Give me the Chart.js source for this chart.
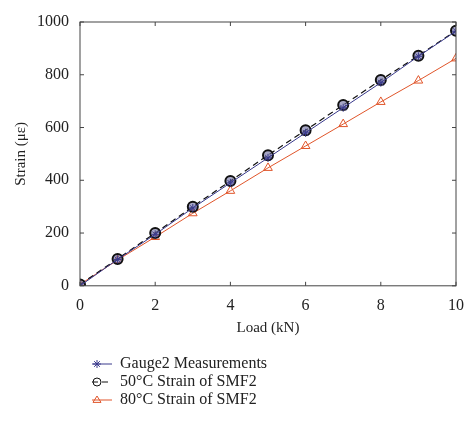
<!DOCTYPE html>
<html><head><meta charset="utf-8">
<script src="https://cdn.jsdelivr.net/npm/chart.js@4"></script>
<style>html,body{margin:0;background:#fff}#w{width:474px;height:433px}</style>
</head><body><div id="w"><canvas id="c"></canvas></div>
<script>
const loads = [0,1,2,3,4,5,6,7,8,9,10];
const gauge2 = [0,100,195,295,390,485,580,675,770,870,965];
const strain50 = [5,102,200,300,397,495,590,685,780,872,967];
const strain80 = [5,98,185,275,360,447,530,613,697,778,862];
const seriesNames = ['Gauge2 Measurements','50°C Strain of SMF2','80°C Strain of SMF2'];
const font = "'Liberation Serif', serif";
const pts = a => a.map((v,i)=>({x:loads[i],y:v}));
const frame = {id:'frame',afterDraw(ch){const {ctx,chartArea:a,scales}=ch;ctx.save();ctx.strokeStyle='#444';ctx.lineWidth=1;ctx.strokeRect(a.left,a.top,a.right-a.left,a.bottom-a.top);
 ctx.beginPath();
 scales.x.ticks.forEach(t=>{const x=scales.x.getPixelForValue(t.value);ctx.moveTo(x,a.bottom);ctx.lineTo(x,a.bottom-4);ctx.moveTo(x,a.top);ctx.lineTo(x,a.top+4);});
 scales.y.ticks.forEach(t=>{const y=scales.y.getPixelForValue(t.value);ctx.moveTo(a.left,y);ctx.lineTo(a.left+4,y);ctx.moveTo(a.right,y);ctx.lineTo(a.right-4,y);});
 ctx.stroke();
 ch.data.datasets.forEach((d,i)=>{const y=364+i*18, x0=92;ctx.strokeStyle=d.borderColor;ctx.lineWidth=1;ctx.setLineDash(d.borderDash||[]);ctx.beginPath();ctx.moveTo(x0,y);ctx.lineTo(x0+20,y);ctx.stroke();ctx.setLineDash([]);
  ctx.beginPath();const cx=x0+5,r=4;
  if(d.pointStyle==='circle'){ctx.arc(cx,y,r,0,Math.PI*2);}else if(d.pointStyle==='triangle'){ctx.moveTo(cx,y-r);ctx.lineTo(cx+r,y+r*0.6);ctx.lineTo(cx-r,y+r*0.6);ctx.closePath();}else{for(let k=0;k<4;k++){const an=k*Math.PI/4;ctx.moveTo(cx-r*Math.cos(an),y-r*Math.sin(an));ctx.lineTo(cx+r*Math.cos(an),y+r*Math.sin(an));}}
  ctx.strokeStyle=d.pointBorderColor;ctx.stroke();
  ctx.fillStyle='#222';ctx.font="16px "+font;ctx.textBaseline='middle';ctx.fillText(d.label,x0+28,y);});
 ctx.restore();}};
new Chart(document.getElementById('c'),{type:'line',
data:{datasets:[
{label:seriesNames[0],data:pts(gauge2),borderColor:'#3a3a8c',borderWidth:1,pointStyle:'star',pointRadius:4,pointBorderColor:'#3a3a8c',pointBackgroundColor:'#3a3a8c',order:1},
{label:seriesNames[1],data:pts(strain50),borderColor:'#111',borderWidth:1.2,borderDash:[6,4],pointStyle:'circle',pointRadius:5,pointBorderWidth:2,pointBorderColor:'#111',pointBackgroundColor:'rgba(110,110,160,0.6)',order:2},
{label:seriesNames[2],data:pts(strain80),borderColor:'#e0552a',borderWidth:1,pointStyle:'triangle',pointRadius:5,pointBorderColor:'#e0552a',pointBackgroundColor:'rgba(255,255,255,0)',order:3}
]},
options:{responsive:true,maintainAspectRatio:false,animation:false,
layout:{padding:{top:22,right:18,bottom:92,left:8}},
plugins:{legend:{display:false},tooltip:{enabled:false}},
scales:{
x:{type:'linear',min:0,max:10,ticks:{stepSize:2,color:'#222',font:{family:font,size:16},padding:2},grid:{display:false},border:{display:false},
 title:{display:true,text:'Load (kN)',color:'#222',font:{family:font,size:15},padding:{top:2}}},
y:{min:0,max:1000,ticks:{stepSize:200,color:'#222',font:{family:font,size:16},padding:3,callback:v=>String(v)},grid:{display:false},border:{display:false},
 title:{display:true,text:'Strain (με)',color:'#222',font:{family:font,size:15}}}
}},plugins:[frame]});
</script></body></html>
